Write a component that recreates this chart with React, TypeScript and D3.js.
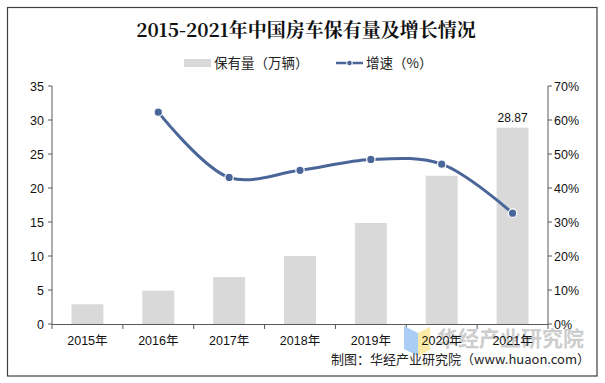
import React from "react";
import * as d3 from "d3";

const categories = ["2015年", "2016年", "2017年", "2018年", "2019年", "2020年", "2021年"];
const holdings = [2.9, 4.9, 6.9, 10.0, 14.85, 21.8, 28.87];
const growth: (number | null)[] = [null, 62.3, 43.1, 45.2, 48.4, 47.0, 32.6];
const leftTicks = [0, 5, 10, 15, 20, 25, 30, 35];
const rightTicks = [0, 10, 20, 30, 40, 50, 60, 70];

const W = 605;
const H = 383;
const M = { left: 52, right: 548, top: 86, bottom: 324 };
const LINE = "#4a6699";
const BAR = "#d9d9d9";
const AXIS = "#595959";
const FONT = "Arial, 'Liberation Sans', 'Noto Sans CJK SC', sans-serif";
const CJK = "'Noto Sans CJK SC', sans-serif";

export default function App() {
  const x = d3.scaleBand<string>().domain(categories).range([M.left, M.right]).paddingInner(0.55).paddingOuter(0.275);
  const xb = d3.scaleBand<string>().domain(categories).range([M.left, M.right]);
  const yL = d3.scaleLinear().domain([0, 35]).range([M.bottom, M.top]);
  const yR = d3.scaleLinear().domain([0, 70]).range([M.bottom, M.top]);

  const pts = categories
    .map((c, i) => ({ c, v: growth[i] }))
    .filter((d) => d.v !== null) as { c: string; v: number }[];
  const line = d3
    .line<{ c: string; v: number }>()
    .x((d) => (xb(d.c) as number) + xb.bandwidth() / 2)
    .y((d) => yR(d.v))
    .curve(d3.curveCatmullRom.alpha(0.5));

  return (
    <svg width={W} height={H} style={{ position: "absolute", left: 0, top: 0, background: "#fff" }}>
      <rect x={7.5} y={7.5} width={589.5} height={368.5} fill="#fff" stroke="#404040" strokeWidth={1.2} />
      <text x={306} y={37} textAnchor="middle" fontFamily={"'Noto Serif CJK SC', 'DejaVu Serif', " + CJK} fontWeight={700} fontSize={19} fill="#111">
        2015-2021年中国房车保有量及增长情况
      </text>
      {/* legend */}
      <rect x={184} y={59} width={27} height={8} fill={BAR} />
      <text x={214} y={68} fontFamily={CJK} fontSize={13.5} fill="#222">保有量（万辆）</text>
      <line x1={336} x2={363} y1={63} y2={63} stroke={LINE} strokeWidth={2.5} />
      <circle cx={349.5} cy={63} r={2.8} fill={LINE} stroke="#fff" strokeWidth={1} />
      <text x={366} y={68} fontFamily={CJK} fontSize={13.5} fill="#222">增速（%）</text>

      {/* bars */}
      {categories.map((c, i) => (
        <rect key={c} x={x(c)} y={yL(holdings[i])} width={x.bandwidth()} height={M.bottom - yL(holdings[i])} fill={BAR} />
      ))}
      <text x={(x("2021年") as number) + x.bandwidth() / 2} y={yL(28.87) - 6} textAnchor="middle" fontFamily={FONT} fontSize={12} fill="#111">
        28.87
      </text>

      {/* axes */}
      <line x1={M.left} x2={M.left} y1={M.top} y2={M.bottom} stroke={AXIS} />
      <line x1={M.right} x2={M.right} y1={M.top} y2={M.bottom} stroke={AXIS} />
      <line x1={M.left} x2={M.right} y1={M.bottom + 0.5} y2={M.bottom + 0.5} stroke={AXIS} />
      {leftTicks.map((t) => (
        <g key={"l" + t}>
          <line x1={M.left - 4} x2={M.left} y1={yL(t)} y2={yL(t)} stroke={AXIS} />
          <text x={M.left - 8} y={yL(t) + 4.5} textAnchor="end" fontFamily={FONT} fontSize={12.5} fill="#111">{t}</text>
        </g>
      ))}
      {rightTicks.map((t) => (
        <g key={"r" + t}>
          <line x1={M.right} x2={M.right + 4} y1={yR(t)} y2={yR(t)} stroke={AXIS} />
          <text x={M.right + 6} y={yR(t) + 4.5} fontFamily={FONT} fontSize={12.5} fill="#111">{t}%</text>
        </g>
      ))}
      {categories.map((c) => (
        <line key={"t" + c} x1={xb(c)} x2={xb(c)} y1={M.bottom} y2={M.bottom + 5} stroke={AXIS} />
      ))}
      <line x1={M.right} x2={M.right} y1={M.bottom} y2={M.bottom + 5} stroke={AXIS} />

      {/* watermark logo */}
      <path d="M404,326 L418,333 L418,356 L404,349 Z" fill="#a9cdf5" />
      <path d="M418,333 L430,327 L430,350 L418,356 Z" fill="#fbeaa5" />
      <text x={584} y={346} textAnchor="end" fontFamily={CJK} fontWeight={700} fontSize={21} fill="#c8c8c8" opacity={0.9}>
        华经产业研究院
      </text>

      {categories.map((c) => (
        <text key={"x" + c} x={(xb(c) as number) + xb.bandwidth() / 2} y={345} textAnchor="middle" fontFamily={FONT} fontSize={12.5} fill="#111">
          {c}
        </text>
      ))}

      {/* line */}
      <path d={line(pts) as string} fill="none" stroke={LINE} strokeWidth={3} />
      {pts.map((d) => (
        <circle key={"p" + d.c} cx={(xb(d.c) as number) + xb.bandwidth() / 2} cy={yR(d.v)} r={4.2} fill={LINE} stroke="#fff" strokeWidth={1.2} />
      ))}

      <text x={590} y={364} textAnchor="end" fontFamily={CJK} fontSize={13} fill="#222">
        制图：华经产业研究院（www.huaon.com）
      </text>
    </svg>
  );
}
